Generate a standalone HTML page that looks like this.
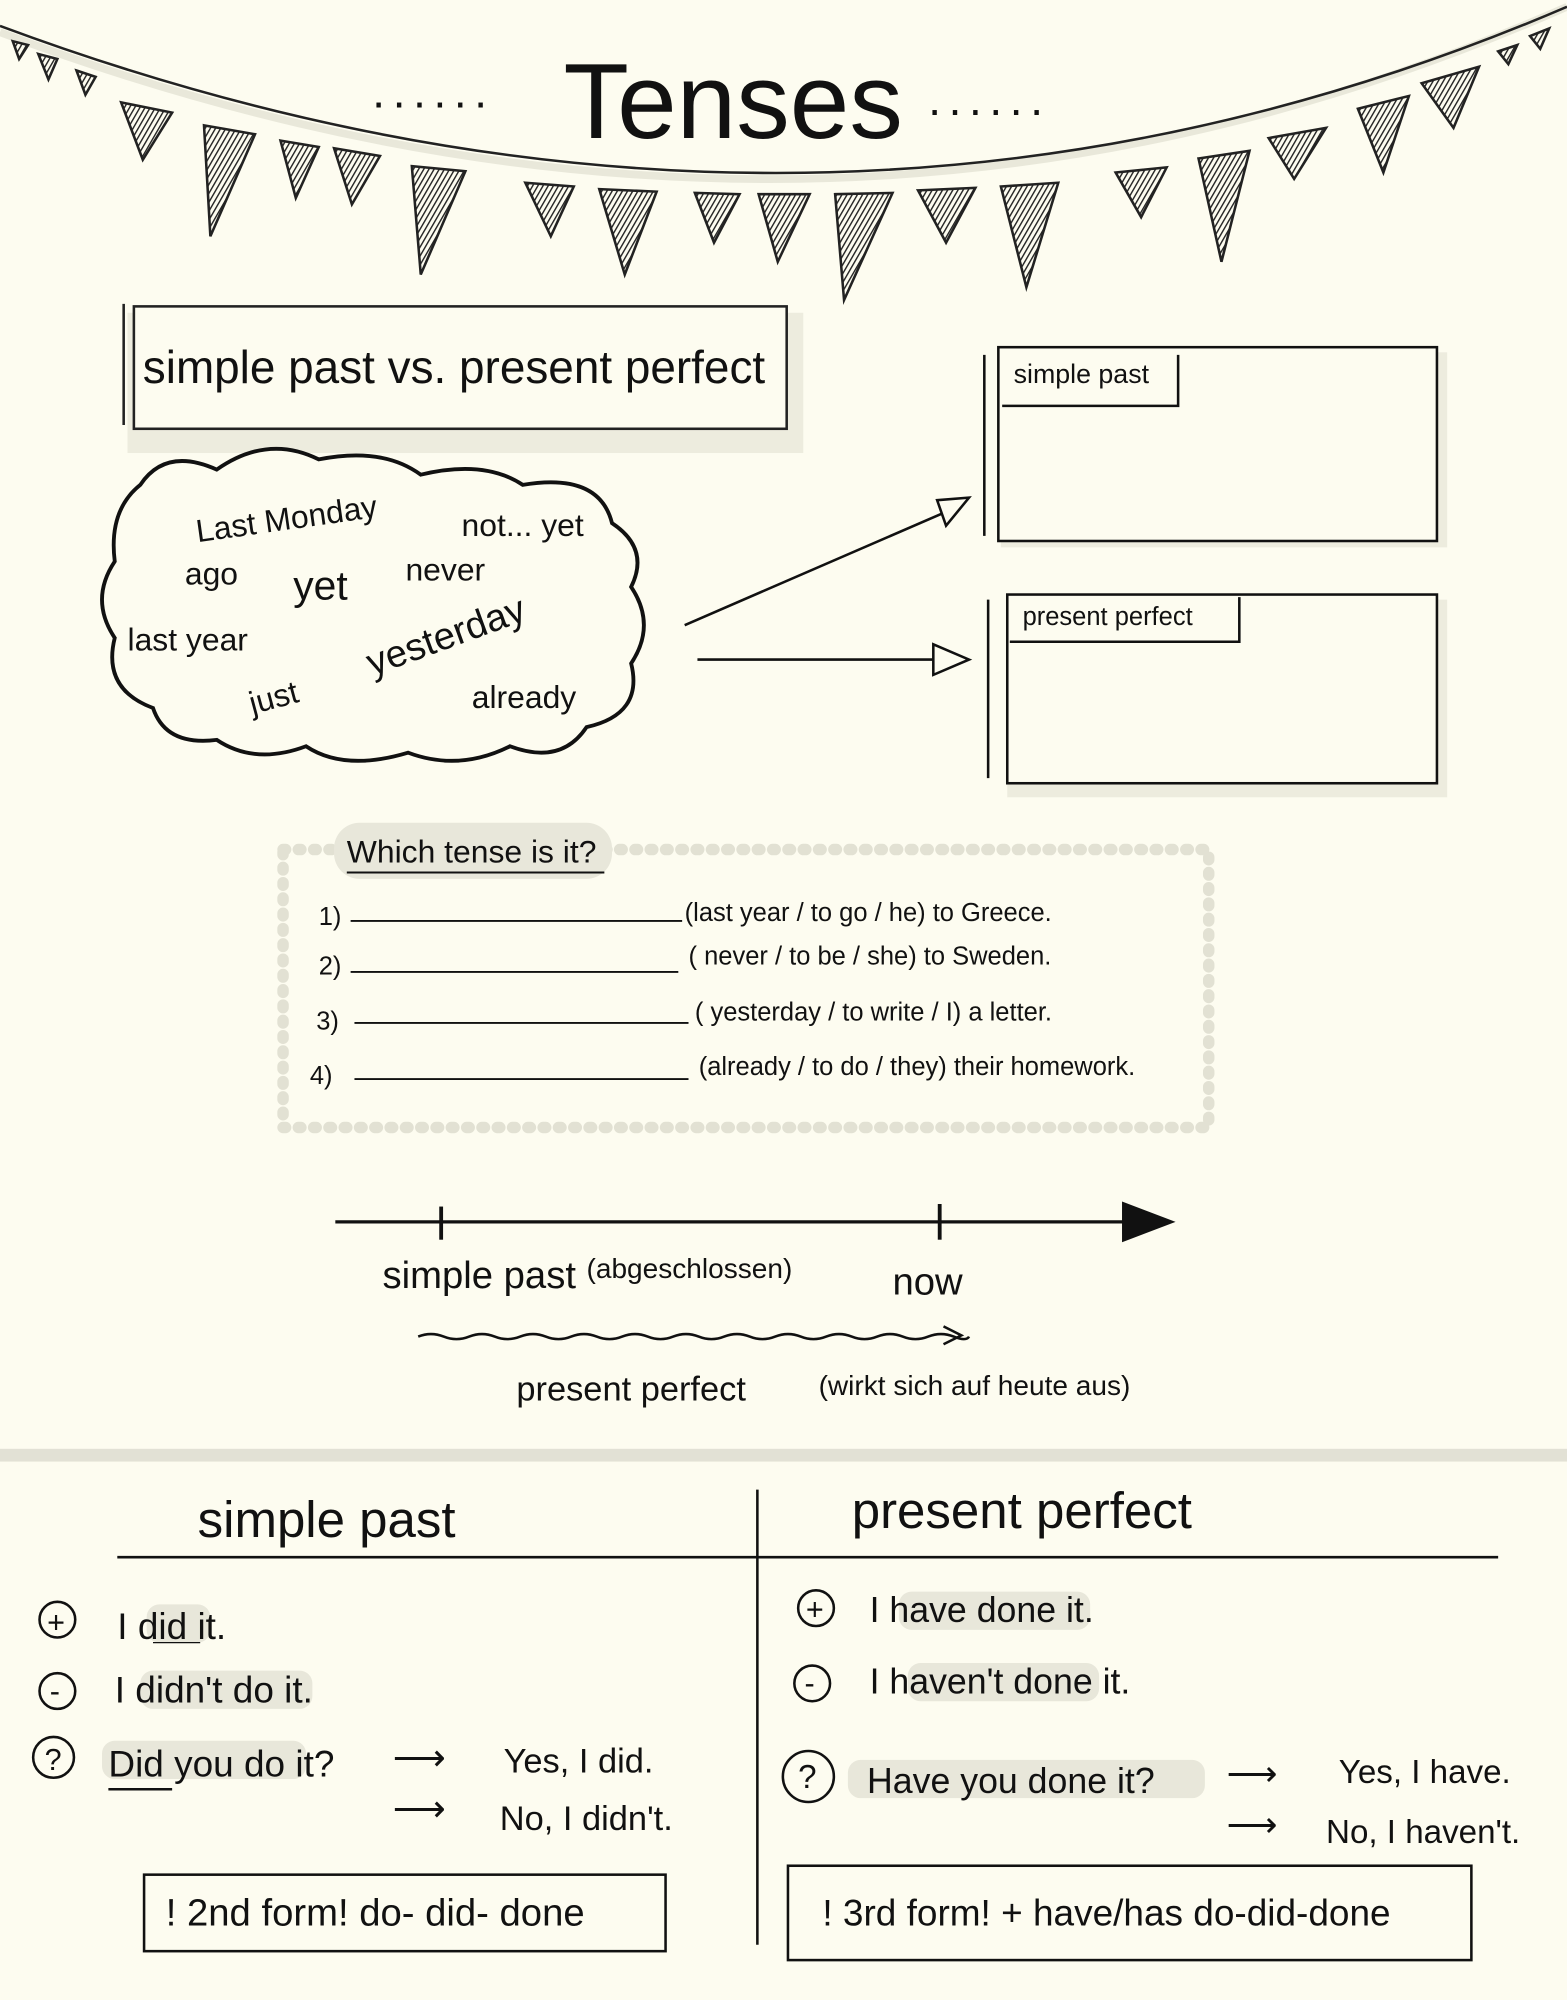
<!DOCTYPE html>
<html><head><meta charset="utf-8"><style>
html,body{margin:0;padding:0;background:#fdfcf0;}
svg{display:block}
text{font-family:"Liberation Sans",sans-serif;fill:#111}
</style></head><body>
<svg width="1567" height="2000" viewBox="0 0 1229 1568" xmlns="http://www.w3.org/2000/svg">
<defs>
<pattern id="h" width="3.5" height="3.5" patternUnits="userSpaceOnUse" patternTransform="rotate(30)">
<rect width="3.5" height="3.5" fill="#fdfcf0"/><line x1="0" y1="0" x2="0" y2="3.5" stroke="#222" stroke-width="2.2"/></pattern>
</defs>
<rect width="1229" height="1568" fill="#fdfcf0"/>
<!-- bunting -->
<path d="M0,25 Q640,265 1229,5" fill="none" stroke="#e0dfd0" stroke-width="6" opacity="0.7"/>
<path d="M0,20 Q640,258 1229,5" fill="none" stroke="#222" stroke-width="2"/>
<g fill="url(#h)" stroke="#222" stroke-width="2">
<polygon points="95,80 135,88 112,125"/>
<polygon points="160,98 200,105 165,185"/>
<polygon points="220,110 250,115 232,155"/>
<polygon points="262,116 298,122 276,160"/>
<polygon points="323,130 365,134 330,215"/>
<polygon points="412,143 450,146 432,185"/>
<polygon points="470,148 515,150 490,215"/>
<polygon points="545,151 580,152 560,190"/>
<polygon points="595,152 635,152 610,205"/>
<polygon points="655,152 700,151 662,235"/>
<polygon points="720,149 765,147 742,190"/>
<polygon points="785,146 830,143 805,225"/>
<polygon points="875,135 915,131 895,170"/>
<polygon points="940,124 980,118 958,205"/>
<polygon points="995,108 1040,100 1015,140"/>
<polygon points="1065,85 1105,75 1085,135"/>
<polygon points="1115,65 1160,52 1140,100"/>
<polygon points="10,32 22,35 15,46"/>
<polygon points="30,42 45,46 38,62"/>
<polygon points="60,55 75,60 67,74"/>
<polygon points="1175,40 1190,35 1183,50"/>
<polygon points="1200,28 1215,22 1208,38"/>
</g>
<text x="292" y="84" font-size="36" letter-spacing="6">......</text>
<text x="442" y="108" font-size="84">Tenses</text>
<text x="728" y="90" font-size="36" letter-spacing="6">......</text>
<!-- title box -->
<rect x="100" y="245" width="530" height="110" fill="#e8e7da" opacity="0.8"/>
<rect x="105" y="240" width="512" height="96" fill="#fdfcf0" stroke="#222" stroke-width="2"/>
<line x1="97" y1="238" x2="97" y2="333" stroke="#222" stroke-width="2"/>
<text x="112" y="300" font-size="36">simple  past   vs. present  perfect</text>
<!-- cloud -->
<path d="M110,380 Q130,350 170,368 Q210,340 250,360 Q300,350 330,372 Q380,360 410,380 Q470,370 480,410 Q510,430 495,460 Q515,490 495,520 Q505,560 460,570 Q440,600 400,585 Q360,605 320,590 Q270,605 240,585 Q200,600 170,580 Q130,585 120,555 Q80,540 90,500 Q70,470 90,440 Q85,400 110,380 Z" fill="#fdfcf0" stroke="#111" stroke-width="3"/>
<g font-size="25">
<text x="155" y="425" transform="rotate(-8 155 425)">Last Monday</text>
<text x="362" y="420">not... yet</text>
<text x="145" y="458">ago</text>
<text x="230" y="470" font-size="32">yet</text>
<text x="318" y="455">never</text>
<text x="100" y="510">last year</text>
<text x="292" y="530" transform="rotate(-20 292 530)" font-size="30">yesterday</text>
<text x="198" y="560" transform="rotate(-15 198 560)">just</text>
<text x="370" y="555">already</text>
</g>
<!-- arrows -->
<line x1="537" y1="490" x2="740" y2="402" stroke="#111" stroke-width="2"/>
<polygon points="735,392 760,390 742,412" fill="#fdfcf0" stroke="#111" stroke-width="2"/>
<line x1="547" y1="517" x2="732" y2="517" stroke="#111" stroke-width="2"/>
<polygon points="732,505 760,517 732,529" fill="#fdfcf0" stroke="#111" stroke-width="2"/>
<!-- right boxes -->
<rect x="785" y="276" width="350" height="153" fill="#e8e7da" opacity="0.8"/>
<rect x="783" y="272" width="344" height="152" fill="#fdfcf0" stroke="#111" stroke-width="2"/>
<line x1="772" y1="278" x2="772" y2="420" stroke="#111" stroke-width="2"/>
<polyline points="786,318 924,318 924,278" fill="none" stroke="#111" stroke-width="2"/>
<text x="795" y="300" font-size="21">simple  past</text>
<rect x="790" y="470" width="345" height="155" fill="#e8e7da" opacity="0.8"/>
<rect x="790" y="466" width="337" height="148" fill="#fdfcf0" stroke="#111" stroke-width="2"/>
<line x1="775" y1="470" x2="775" y2="610" stroke="#111" stroke-width="2"/>
<polyline points="792,503 972,503 972,468" fill="none" stroke="#111" stroke-width="2"/>
<text x="802" y="490" font-size="20">present  perfect</text>
<!-- exercise -->
<rect x="222" y="666" width="726" height="218" fill="none" stroke="#e2e1d3" stroke-width="9" stroke-dasharray="2 10" stroke-linecap="round"/>
<rect x="262" y="645" width="218" height="44" rx="20" fill="#e8e7da"/>
<text x="272" y="676" font-size="25">Which  tense  is  it?</text>
<line x1="272" y1="684" x2="474" y2="684" stroke="#111" stroke-width="1.5"/>
<g font-size="20">
<text x="250" y="725">1)</text><line x1="275" y1="722" x2="535" y2="722" stroke="#111" stroke-width="1.5"/>
<text x="537" y="722">(last year / to go / he)  to Greece.</text>
<text x="250" y="764">2)</text><line x1="275" y1="762" x2="532" y2="762" stroke="#111" stroke-width="1.5"/>
<text x="540" y="756">( never / to be / she)  to  Sweden.</text>
<text x="248" y="807">3)</text><line x1="278" y1="802" x2="540" y2="802" stroke="#111" stroke-width="1.5"/>
<text x="545" y="800">( yesterday / to write / I)  a  letter.</text>
<text x="243" y="850">4)</text><line x1="278" y1="846" x2="540" y2="846" stroke="#111" stroke-width="1.5"/>
<text x="548" y="843">(already / to do / they) their homework.</text>
</g>
<!-- timeline -->
<line x1="263" y1="958" x2="890" y2="958" stroke="#111" stroke-width="2.5"/>
<polygon points="880,942 922,958 880,974" fill="#111"/>
<line x1="346" y1="946" x2="346" y2="972" stroke="#111" stroke-width="3"/>
<line x1="737" y1="944" x2="737" y2="972" stroke="#111" stroke-width="3"/>
<text x="300" y="1010" font-size="30">simple past</text>
<text x="460" y="1002" font-size="22">(abgeschlossen)</text>
<text x="700" y="1015" font-size="30">now</text>
<path d="M328,1048 q10,-4 20,0 t20,0 t20,0 t20,0 t20,0 t20,0 t20,0 t20,0 t20,0 t20,0 t20,0 t20,0 t20,0 t20,0 t20,0 t20,0 t20,0 t20,0 t20,0 t20,0 t20,0 t12,0" fill="none" stroke="#111" stroke-width="2"/>
<polyline points="740,1040 754,1047 740,1054" fill="none" stroke="#111" stroke-width="2"/>
<text x="405" y="1098" font-size="27">present  perfect</text>
<text x="642" y="1094" font-size="22">(wirkt sich auf heute aus)</text>
<!-- bottom -->
<rect x="0" y="1136" width="1229" height="10" fill="#e2e1d5"/>
<line x1="594" y1="1168" x2="594" y2="1525" stroke="#111" stroke-width="2"/>
<line x1="92" y1="1221" x2="1175" y2="1221" stroke="#111" stroke-width="2"/>
<text x="155" y="1205" font-size="40">simple  past</text>
<text x="668" y="1198" font-size="40">present  perfect</text>
<g font-size="29">
<circle cx="45" cy="1270" r="14" fill="none" stroke="#111" stroke-width="2"/><text x="37" y="1280" font-size="24">+</text>
<rect x="115" y="1258" width="50" height="30" rx="10" fill="#e8e7da"/>
<text x="92" y="1285">I  did  it.</text><line x1="120" y1="1288" x2="157" y2="1288" stroke="#111"/>
<circle cx="45" cy="1326" r="14" fill="none" stroke="#111" stroke-width="2"/><text x="39" y="1334" font-size="24">-</text>
<rect x="110" y="1310" width="135" height="30" rx="10" fill="#e8e7da"/>
<text x="90" y="1335">I  didn't  do  it.</text>
<circle cx="42" cy="1378" r="16" fill="none" stroke="#111" stroke-width="2"/><text x="35" y="1388" font-size="24">?</text>
<rect x="80" y="1365" width="160" height="30" rx="10" fill="#e8e7da"/>
<text x="85" y="1393">Did  you  do  it?</text>
<line x1="85" y1="1403" x2="135" y2="1403" stroke="#111" stroke-width="2"/>
<text x="308" y="1388">⟶</text><text x="395" y="1390" font-size="27">Yes, I did.</text>
<text x="308" y="1428">⟶</text><text x="392" y="1435" font-size="27">No, I didn't.</text>
</g>
<rect x="113" y="1470" width="409" height="60" fill="none" stroke="#111" stroke-width="2"/>
<text x="130" y="1510" font-size="30">! 2nd form!  do-  did-  done</text>
<g font-size="28">
<circle cx="640" cy="1261" r="14" fill="none" stroke="#111" stroke-width="2"/><text x="632" y="1270" font-size="24">+</text>
<rect x="705" y="1248" width="150" height="30" rx="10" fill="#e8e7da"/>
<text x="682" y="1272">I  have  done  it.</text>
<circle cx="637" cy="1320" r="14" fill="none" stroke="#111" stroke-width="2"/><text x="631" y="1328" font-size="24">-</text>
<rect x="712" y="1304" width="150" height="30" rx="10" fill="#e8e7da"/>
<text x="682" y="1328">I   haven't  done  it.</text>
<circle cx="634" cy="1393" r="20" fill="none" stroke="#111" stroke-width="2"/><text x="626" y="1402" font-size="26">?</text>
<rect x="665" y="1380" width="280" height="30" rx="10" fill="#e8e7da"/>
<text x="680" y="1406">Have   you  done  it?</text>
<text x="962" y="1400">⟶</text><text x="1050" y="1398" font-size="26">Yes, I have.</text>
<text x="962" y="1440">⟶</text><text x="1040" y="1445" font-size="26">No, I haven't.</text>
</g>
<rect x="618" y="1463" width="536" height="74" fill="none" stroke="#111" stroke-width="2"/>
<text x="645" y="1510" font-size="29">! 3rd  form! + have/has  do-did-done</text>
</svg>
</body></html>
